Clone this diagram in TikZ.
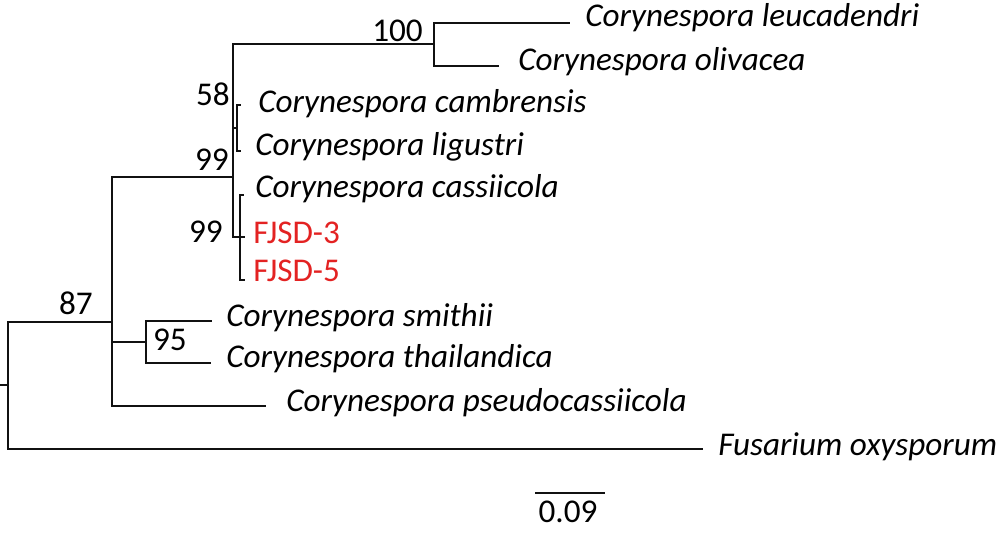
\documentclass[tikz,border=0pt]{standalone}
\usepackage{fontspec}
\setmainfont{Carlito}
\usetikzlibrary{positioning}
\definecolor{IsoRed}{HTML}{E32222}
\definecolor{TreeBlack}{HTML}{111111}

\begin{document}
\begin{tikzpicture}[
    x=0.025cm,y=-0.025cm,
    branch/.style={line width=1.3pt,color=TreeBlack},
    taxon/.style={anchor=west,inner sep=0pt,font=\fontsize{23.6}{27}\selectfont\itshape},
    isolate/.style={anchor=west,inner sep=0pt,font=\fontsize{23.6}{27}\selectfont,text=IsoRed},
    boot/.style={anchor=east,inner sep=0pt,font=\fontsize{23.6}{27}\selectfont}
  ]
    \useasboundingbox (0,0) rectangle (1000,533);
    % internal nodes
    \coordinate (stub) at (0,385);
    \coordinate (root) at (8,385);
    \coordinate (n87) at (112,322);
    \coordinate (n99a) at (233,177);
    \coordinate (n100) at (434,44);
    \coordinate (n58) at (237,128);
    \coordinate (n99b) at (240,237);
    \coordinate (n95) at (146,342);
    % tips
    \coordinate (leuc) at (570,23);
    \coordinate (oliv) at (499,66);
    \coordinate (camb) at (241,105);
    \coordinate (ligu) at (241,151);
    \coordinate (cass) at (244,195);
    \coordinate (fj3) at (245,237);
    \coordinate (fj5) at (245,280);
    \coordinate (smit) at (212,321);
    \coordinate (thai) at (211,363);
    \coordinate (pseu) at (266,406);
    \coordinate (fusa) at (703,449);
    % branches
    \draw[branch] (stub) -- (root);
    \draw[branch] (root) |- (n87);
    \draw[branch] (root) |- (fusa);
    \draw[branch] (n87) |- (n99a);
    \draw[branch] (n87) |- (n95);
    \draw[branch] (n87) |- (pseu);
    \draw[branch] (n99a) |- (n100);
    \draw[branch] (n99a) |- (n58);
    \draw[branch] (n99a) |- (n99b);
    \draw[branch] (n100) |- (leuc);
    \draw[branch] (n100) |- (oliv);
    \draw[branch] (n58) |- (camb);
    \draw[branch] (n58) |- (ligu);
    \draw[branch] (n99b) |- (cass);
    \draw[branch] (n99b) |- (fj3);
    \draw[branch] (n99b) |- (fj5);
    \draw[branch] (n95) |- (smit);
    \draw[branch] (n95) |- (thai);
    % taxa
    \node[taxon] (t-leuc) at (585,18) {Corynespora leucadendri};
    \node[taxon] (t-oliv) at (518,62) {Corynespora olivacea};
    \node[taxon] (t-camb) at (258,104) {Corynespora cambrensis};
    \node[taxon] (t-ligu) at (255,147) {Corynespora ligustri};
    \node[taxon] (t-cass) at (255,189) {Corynespora cassiicola};
    \node[isolate] (t-fj3) at (253,233) {FJSD-3};
    \node[isolate] (t-fj5) at (253,271) {FJSD-5};
    \node[taxon] (t-smit) at (226,318) {Corynespora smithii};
    \node[taxon] (t-thai) at (226,359) {Corynespora thailandica};
    \node[taxon] (t-pseu) at (286,403) {Corynespora pseudocassiicola};
    \node[taxon] (t-fusa) at (718,447) {Fusarium oxysporum};
    % bootstrap values
    \node[boot] (b100) at (423,31) {100};
    \node[boot] (b58) at (230,94) {58};
    \node[boot] (b99a) at (229,160) {99};
    \node[boot] (b99b) at (223,232) {99};
    \node[boot] (b87) at (93,303) {87};
    \node[boot] (b95) at (187,340) {95};
    % scale bar
    \coordinate (sbl) at (535,493);
    \coordinate (sbr) at (605,493);
    \draw[branch] (sbl) -- (sbr);
    \node[inner sep=0pt,font=\fontsize{23.6}{27}\selectfont] (sblab) at (568,512) {0.09};
\end{tikzpicture}
\end{document}
